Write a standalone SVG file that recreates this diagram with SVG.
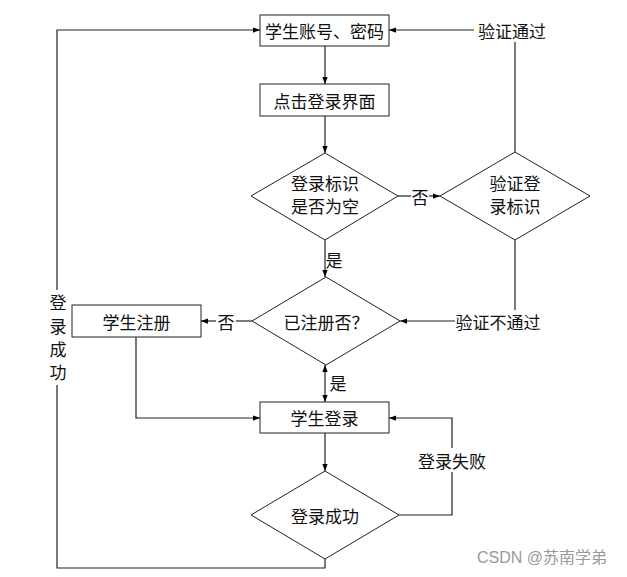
<svg xmlns="http://www.w3.org/2000/svg" width="627" height="577" viewBox="0 0 627 577">
<defs>
<marker id="ah" viewBox="0 0 8 8" refX="8" refY="4" markerWidth="7" markerHeight="7" orient="auto-start-reverse" markerUnits="userSpaceOnUse">
<path d="M0,1 L8,4 L0,7 Z" fill="#000"/>
</marker>
<style>
.n{fill:#fff;stroke:#222;stroke-width:1}
.t{font-family:"Noto Sans CJK SC","Noto Sans",sans-serif;font-size:17px;fill:#111;text-anchor:middle;dominant-baseline:central}
.t2{font-family:"Noto Sans CJK SC","Noto Sans",sans-serif;font-size:17px;fill:#111;text-anchor:middle}
.c{fill:none;stroke:#222;stroke-width:1.2}
.wm{font-family:"Liberation Sans","Noto Sans CJK SC",sans-serif;font-size:16px;fill:#999}
</style>
</defs>
<rect width="627" height="577" fill="#fff"/>
<g id="connectors">
<path class="c" d="M325,46 V84" marker-end="url(#ah)"/>
<path class="c" d="M325,116 V153" marker-end="url(#ah)"/>
<path class="c" d="M398,196 H411"/>
<path class="c" d="M429,196 H440" marker-end="url(#ah)"/>
<path class="c" d="M515,152 V42"/>
<path class="c" d="M474,30 H389" marker-end="url(#ah)"/>
<path class="c" d="M325,240 V277" marker-end="url(#ah)"/>
<path class="c" d="M515,240 V310"/>
<path class="c" d="M455,321 H400" marker-end="url(#ah)"/>
<path class="c" d="M252,321 H236"/>
<path class="c" d="M216,321 H201" marker-end="url(#ah)"/>
<path class="c" d="M325,365 V402" marker-start="url(#ah)" marker-end="url(#ah)"/>
<path class="c" d="M136,337 V418 H260" marker-end="url(#ah)"/>
<path class="c" d="M325,433 V471" marker-end="url(#ah)"/>
<path class="c" d="M399,515 H452 V472"/>
<path class="c" d="M452,448 V418 H389" marker-end="url(#ah)"/>
<path class="c" d="M325,559 V568 H57 V385"/>
<path class="c" d="M57,290 V30 H260" marker-end="url(#ah)"/>
<text class="t" x="420" y="196">否</text>
<text class="t" x="512" y="30">验证通过</text>
<text class="t" x="334" y="259">是</text>
<text class="t" x="498" y="321">验证不通过</text>
<text class="t" x="226" y="321">否</text>
<text class="t" x="338" y="382">是</text>
<text class="t" x="452" y="460">登录失败</text>
<text class="t2" x="58"><tspan x="58" y="309">登</tspan><tspan x="58" y="333">录</tspan><tspan x="58" y="356">成</tspan><tspan x="58" y="379">功</tspan></text>
</g>
<g id="n1"><rect class="n" x="260" y="15" width="129" height="31"/><text class="t" x="324.5" y="30.5">学生账号、密码</text></g>
<g id="n2"><rect class="n" x="260" y="84" width="129" height="32"/><text class="t" x="324.5" y="100">点击登录界面</text></g>
<g id="d1"><path class="n" d="M325,153 L398,196 L325,240 L251,196 Z"/><text class="t2" x="325"><tspan x="325" y="190">登录标识</tspan><tspan x="325" y="213">是否为空</tspan></text></g>
<g id="d2"><path class="n" d="M515,152 L590,196 L515,240 L440,196 Z"/><text class="t2" x="515"><tspan x="515" y="190">验证登</tspan><tspan x="515" y="213">录标识</tspan></text></g>
<g id="d3"><path class="n" d="M326,277 L400,321 L326,365 L252,321 Z"/><text class="t" x="326" y="321">已注册否？</text></g>
<g id="n3"><rect class="n" x="72" y="305" width="129" height="32"/><text class="t" x="136.5" y="321">学生注册</text></g>
<g id="n4"><rect class="n" x="260" y="402" width="129" height="31"/><text class="t" x="324.5" y="417.5">学生登录</text></g>
<g id="d4"><path class="n" d="M325,471 L399,515 L325,559 L251,515 Z"/><text class="t" x="325" y="515">登录成功</text></g>
<text class="wm" x="477" y="563">CSDN @苏南学弟</text>
</svg>
